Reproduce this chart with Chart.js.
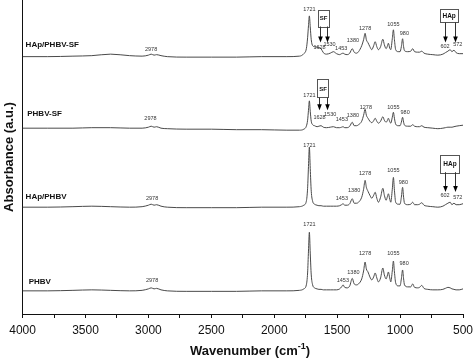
<!DOCTYPE html>
<html>
<head>
<meta charset="utf-8">
<script src="https://cdn.jsdelivr.net/npm/chart.js@4.4.1/dist/chart.umd.min.js"></script>
<style>
  html, body { margin: 0; padding: 0; background: #fff; }
</style>
</head>
<body>
<canvas id="ftir" width="474" height="363"></canvas>
<script>
// wavenumber grid (cm-1), shared by all four spectra
const wavenumbers = [
    4000, 3800, 3600, 3450, 3300, 3150, 3050, 3000, 2978, 2955,
    2935, 2900, 2850, 2700, 2500, 2300, 2100, 1900, 1800, 1765,
    1745, 1735, 1728, 1721, 1714, 1706, 1695, 1680, 1660, 1645,
    1628, 1610, 1585, 1555, 1530, 1505, 1480, 1465, 1453, 1440,
    1420, 1400, 1380, 1365, 1345, 1330, 1305, 1290, 1278, 1268,
    1255, 1240, 1225, 1210, 1198, 1185, 1172, 1155, 1137, 1125,
    1111, 1100, 1093, 1082, 1074, 1062, 1053, 1045, 1035, 1015,
    1000, 990, 980, 972, 965, 940, 915, 900, 885, 860,
    845, 828, 810, 780, 740, 700, 660, 640, 620, 602,
    588, 572, 555, 530, 500
];

// absorbance above each spectrum's own baseline (a.u.)
const hapPhbvSf = [
    0, 0, 0.5, 1, 2.5, 1, 0.5, 1.5, 2.5, 1.5,
    2, 1, 0, -0.5, -0.5, -0.5, 0, 0, 0.5, 3,
    8, 19, 31, 41, 30, 17, 11, 10, 9.5, 9,
    8, 4, 2.5, 3.5, 5, 3, 2, 3, 3.5, 2.5,
    2, 3.5, 8, 4.5, 3.5, 5, 11, 17, 23.5, 17,
    14, 10, 7, 11, 15, 10, 7, 10, 17.5, 12,
    8, 11, 13.5, 8.5, 7, 18, 27, 17, 7, 5,
    5, 10, 18, 10, 6, 5, 5.5, 8, 5, 4.5,
    4.5, 5.5, 3.5, 2.5, 2, 1.5, 2.5, 4, 5.5, 7,
    5, 6.5, 4, 3, 3
];
const phbvSf = [
    1, 1, 1, 1.5, 1.5, 1, 1, 2, 3, 2,
    2.5, 1, 0.5, 0, 0, -0.5, -0.5, -1, -1, 0,
    3, 9, 19, 28.5, 18, 8, 4.5, 3.5, 2.5, 3,
    3.5, 2, 1.5, 2, 2.5, 1.5, 1.5, 2, 2.5, 1.5,
    1.5, 3, 7, 3.5, 3.5, 4.5, 8, 14, 20, 14,
    11, 8, 6.5, 8.5, 11, 8, 6, 8, 12.5, 9,
    7, 9, 11, 7.5, 6, 12, 17, 11, 5, 3.5,
    3.5, 7, 12, 7, 4, 3, 3, 4.5, 3, 2.5,
    2.5, 3.5, 2, 1.5, 1, 0.5, 1, 1.5, 2, 2,
    2, 2.5, 3, 3.5, 4
];
const hapPhbv = [
    0, 0, 0.5, 1, 0.5, 0, 0.5, 2, 3, 2,
    2.5, 1, 0, -0.5, -0.5, -0.5, 0, 0, 0.5, 2,
    6, 19, 41, 60.5, 39, 16, 6, 3, 2, 1.5,
    1.5, 1, 1, 1, 1, 1, 1.5, 2.5, 3.5, 2,
    2, 3.5, 8.5, 4, 4, 5, 10, 18, 27, 20,
    16, 12, 9, 12, 15, 9, 5, 10, 19, 12,
    7, 11, 13.5, 8, 5, 18, 30, 17, 5, 3,
    3, 10, 20, 10, 4, 2.5, 3, 5, 2.5, 2.5,
    3, 4.5, 2, 1, 0.5, 0, 1, 2.5, 4, 5,
    2.5, 4, 2.5, 2.5, 3.5
];
const phbv = [
    0, 0, 0.5, 1, 0.5, 0, 0.5, 2, 3, 2,
    2.5, 1, 0, -0.5, -0.5, -0.5, 0, 0, 0.5, 2,
    6, 18, 40, 59, 38, 16, 6, 3, 2, 1.5,
    1.5, 1, 1, 1, 1, 1, 2, 4, 6, 3.5,
    3, 5, 12.5, 7, 6, 7, 12, 20, 29, 22,
    19, 14, 11, 14, 18, 13, 9, 13, 23, 16,
    12, 16, 19, 13, 9, 20, 30, 19, 8, 5,
    5, 12, 21, 12, 6, 4, 4, 7, 3.5, 3,
    3.5, 5.5, 2.5, 1.5, 1, 1, 1.5, 2.5, 3.5, 3,
    2, 1.5, 1, 1, 2
];

const sampleNames = ["HAp/PHBV-SF", "PHBV-SF", "HAp/PHBV", "PHBV"];
const spectra = [hapPhbvSf, phbvSf, hapPhbv, phbv];
const offsets = [259, 186, 107.5, 23.3];   // vertical stacking offset of each spectrum
const xTickValues = [4000, 3500, 3000, 2500, 2000, 1500, 1000, 500];

// peak labels: [text, wavenumber, absorbance]
const peakLabels = [
    ["2978", 2979, 266.7], ["1721", 1720, 306], ["1628", 1640, 268.7], ["1530", 1561, 271.7],
    ["1453", 1468, 267.7], ["1380", 1375, 275.3], ["1278", 1278, 287.7], ["1055", 1053, 291],
    ["980", 966, 282.7], ["602", 643, 269.3], ["572", 542, 271],
    ["2978", 2984, 197], ["1721", 1720, 220], ["1628", 1640, 197.7], ["1530", 1556, 201],
    ["1453", 1463, 195.3], ["1380", 1375, 199.3], ["1278", 1272, 207.7], ["1055", 1053, 207.7],
    ["980", 960, 202.7],
    ["2978", 2971, 116.7], ["1721", 1720, 169.3], ["1453", 1463, 116.7], ["1380", 1365, 124.3],
    ["1278", 1278, 141], ["1055", 1053, 144.3], ["980", 974, 132.7], ["602", 643, 119.3],
    ["572", 542, 117.7],
    ["2978", 2971, 33.3], ["1721", 1720, 90], ["1453", 1455, 33.3], ["1380", 1371, 41.7],
    ["1278", 1278, 61], ["1055", 1053, 61], ["980", 968, 51]
];
const nameSpots = [[3976, 271], [3963, 201], [3976, 117.7], [3952, 32.7]];

// boxed markers: text, left wn, right wn, top, bottom, arrow wns, arrow tip
const boxes = [
    {text: "SF", l: 1652, r: 1565, top: 306, bottom: 289.3, arrows: [1640, 1577], tip: 273.3},
    {text: "SF", l: 1657, r: 1567, top: 236, bottom: 217.7, arrows: [1643, 1582], tip: 205},
    {text: "HAp", l: 683, r: 537, top: 306.7, bottom: 293.3, arrows: [643, 563], tip: 273.3},
    {text: "HAp", l: 679, r: 528, top: 160.5, bottom: 142.7, arrows: [643, 563], tip: 122.7}
];

const FAMILY = "'Liberation Sans', Arial, sans-serif";
const font = (size, bold) => (bold ? "bold " : "") + size + "px " + FAMILY;

const annotate = {
    id: "annotate",
    afterDatasetsDraw(chart) {
        const ctx = chart.ctx;
        const x = chart.scales.x, y = chart.scales.y;
        ctx.save();
        ctx.textBaseline = "middle";

        ctx.textAlign = "center";
        ctx.fillStyle = "#333";
        ctx.font = font(5.5);
        peakLabels.forEach(([t, wn, v]) => ctx.fillText(t, x.getPixelForValue(wn), y.getPixelForValue(v)));

        ctx.textAlign = "left";
        ctx.fillStyle = "#111";
        ctx.font = font(8, true);
        sampleNames.forEach((n, i) => ctx.fillText(n, x.getPixelForValue(nameSpots[i][0]), y.getPixelForValue(nameSpots[i][1])));

        boxes.forEach(b => {
            const x0 = x.getPixelForValue(b.l), x1 = x.getPixelForValue(b.r);
            const y0 = y.getPixelForValue(b.top), y1 = y.getPixelForValue(b.bottom);
            ctx.strokeStyle = "#555";
            ctx.lineWidth = 1;
            ctx.fillStyle = "#fff";
            ctx.fillRect(x0, y0, x1 - x0, y1 - y0);
            ctx.strokeRect(Math.round(x0) + 0.5, Math.round(y0) + 0.5, Math.round(x1 - x0), Math.round(y1 - y0));
            ctx.fillStyle = "#111";
            ctx.textAlign = "center";
            ctx.font = font(b.text === "SF" ? 6 : 6.5, true);
            ctx.fillText(b.text, (x0 + x1) / 2, (y0 + y1) / 2 + 0.5);
            const tipY = y.getPixelForValue(b.tip);
            b.arrows.forEach(wn => {
                const ax = Math.round(x.getPixelForValue(wn)) + 0.5;
                ctx.strokeStyle = "#333";
                ctx.beginPath();
                ctx.moveTo(ax, y1);
                ctx.lineTo(ax, tipY - 5);
                ctx.stroke();
                ctx.fillStyle = "#000";
                ctx.beginPath();
                ctx.moveTo(ax - 2.3, tipY - 6);
                ctx.lineTo(ax + 2.3, tipY - 6);
                ctx.lineTo(ax, tipY);
                ctx.closePath();
                ctx.fill();
            });
        });
        ctx.restore();
    },
    afterDraw(chart) {
        // x axis title with superscript
        const ctx = chart.ctx;
        const a = "Wavenumber (cm", sup = "-1", b = ")";
        ctx.save();
        ctx.fillStyle = "#111";
        ctx.textBaseline = "alphabetic";
        ctx.textAlign = "left";
        ctx.font = font(13, true);
        const wa = ctx.measureText(a).width, wb = ctx.measureText(b).width;
        ctx.font = font(9, true);
        const ws = ctx.measureText(sup).width;
        const cx = 250, base = 355;
        let left = cx - (wa + ws + wb) / 2;
        ctx.font = font(13, true);
        ctx.fillText(a, left, base);
        ctx.font = font(9, true);
        ctx.fillText(sup, left + wa, base - 6);
        ctx.font = font(13, true);
        ctx.fillText(b, left + wa + ws, base);
        ctx.restore();
    }
};

const datasets = spectra.map((s, k) => ({
    label: sampleNames[k],
    data: wavenumbers.map((w, i) => ({x: w, y: offsets[k] + s[i]})),
    borderColor: "#4a4a4a",
    borderWidth: 1,
    pointRadius: 0,
    cubicInterpolationMode: "monotone",
    fill: false
}));

new Chart(document.getElementById("ftir").getContext("2d"), {
    type: "line",
    data: {datasets},
    options: {
        responsive: false,
        animation: false,
        events: [],
        layout: {padding: {left: 2, right: 11, top: 0, bottom: 20.6}},
        plugins: {legend: {display: false}, tooltip: {enabled: false}},
        scales: {
            x: {
                type: "linear",
                reverse: true,
                min: 500,
                max: 4000,
                afterBuildTicks: axis => {
                    const t = [];
                    for (let v = 500; v <= 4000; v += 250) t.push({value: v});
                    axis.ticks = t;
                },
                ticks: {
                    autoSkip: false,
                    maxRotation: 0,
                    padding: 5,
                    color: "#111",
                    font: {family: FAMILY, size: 12},
                    callback: v => xTickValues.includes(v) ? String(v) : ""
                },
                grid: {display: true, drawOnChartArea: false, drawTicks: true, tickLength: 4, color: "#111"},
                border: {display: true, color: "#111", width: 1}
            },
            y: {
                min: 0,
                max: 316,
                ticks: {display: false},
                grid: {display: false, drawTicks: false},
                border: {display: true, color: "#111", width: 1},
                title: {
                    display: true,
                    text: "Absorbance (a.u.)",
                    color: "#111",
                    font: {family: FAMILY, size: 13, weight: "bold"},
                    padding: {top: 0, bottom: 5}
                }
            }
        }
    },
    plugins: [annotate]
});
</script>
</body>
</html>
